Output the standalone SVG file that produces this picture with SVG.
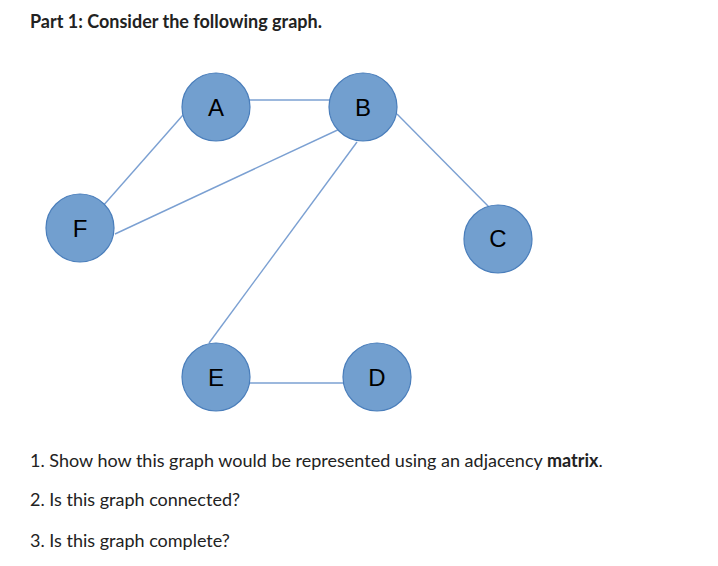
<svg xmlns="http://www.w3.org/2000/svg" width="718" height="566" viewBox="0 0 718 566">
<style>
.n{fill:#729fcf;stroke:#4a7ebb;stroke-width:1.2}
.l{font-family:"Liberation Sans",Arial,sans-serif;font-size:24px;fill:#000;text-anchor:middle}
.e{stroke:#7ba0d2;stroke-width:1.4;fill:none}
.t{font-family:Lato,"Liberation Sans",sans-serif;font-size:18px;fill:#222}
</style>
<rect width="718" height="566" fill="#fff"/>
<text class="t" x="30" y="28" font-weight="bold">Part 1: Consider the following graph.</text>
<g id="edges">
<line class="e" x1="248" y1="100" x2="330" y2="100"/>
<line class="e" x1="102" y1="207" x2="183" y2="115"/>
<line class="e" x1="115" y1="234" x2="344" y2="127"/>
<line class="e" x1="357" y1="142" x2="209" y2="343"/>
<line class="e" x1="397" y1="114" x2="490" y2="208"/>
<line class="e" x1="249" y1="383" x2="344" y2="383"/>
</g>
<g id="A"><circle class="n" cx="216" cy="107" r="34"/><text class="l" x="216" y="116">A</text></g>
<g id="B"><circle class="n" cx="363" cy="107" r="34"/><text class="l" x="363" y="116">B</text></g>
<g id="F"><circle class="n" cx="80" cy="228" r="34"/><text class="l" x="80" y="237">F</text></g>
<g id="C"><circle class="n" cx="498" cy="239" r="34"/><text class="l" x="498" y="247" font-size="21">C</text></g>
<g id="E"><circle class="n" cx="216" cy="377" r="34"/><text class="l" x="216" y="386">E</text></g>
<g id="D"><circle class="n" cx="377" cy="377" r="34"/><text class="l" x="377" y="386">D</text></g>
<text class="t" x="30" y="467">1. Show how this graph would be represented using an adjacency <tspan font-weight="bold">matrix</tspan>.</text>
<text class="t" x="30" y="506">2. Is this graph connected?</text>
<text class="t" x="30" y="547">3. Is this graph complete?</text>
</svg>
